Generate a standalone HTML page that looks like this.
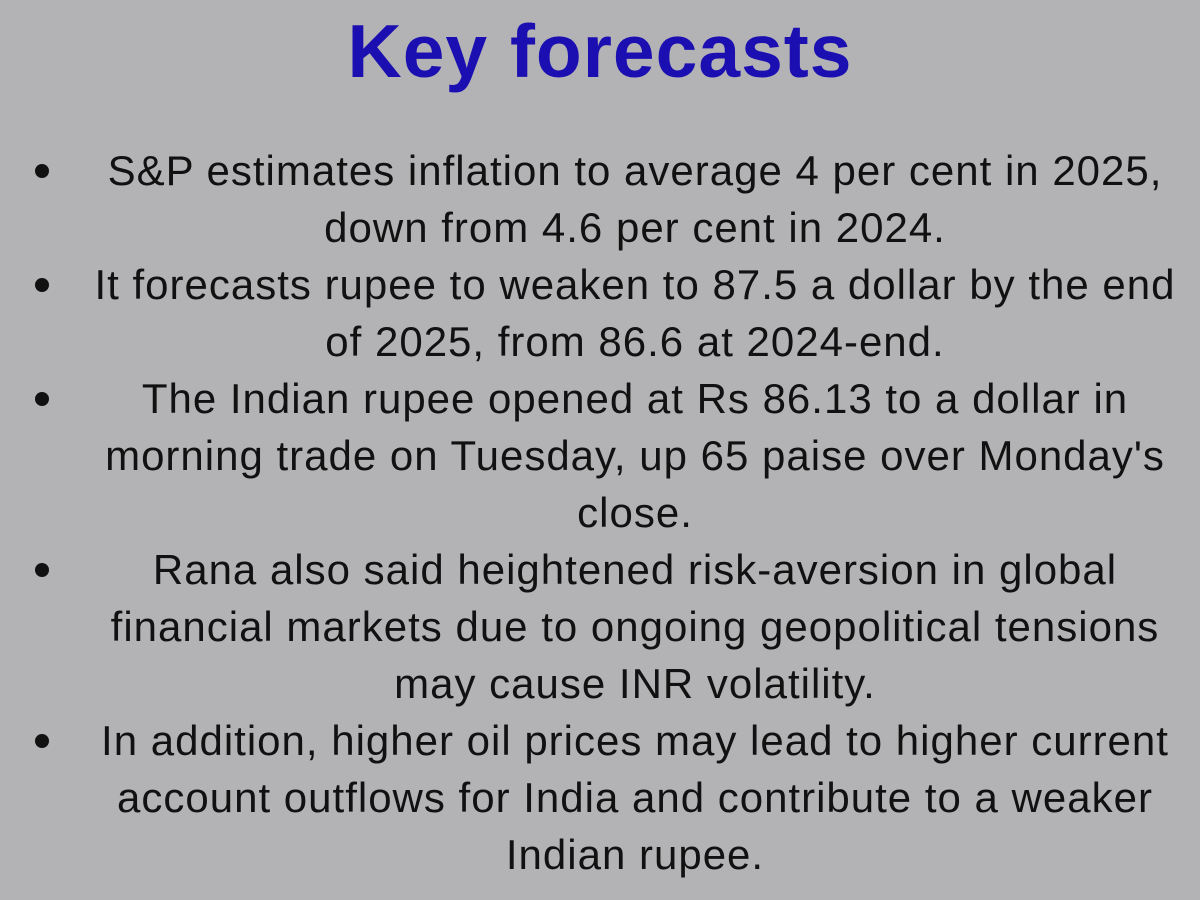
<!DOCTYPE html>
<html><head><meta charset="utf-8"><style>
html,body{margin:0;padding:0}
body{width:1200px;height:900px;background:#b3b3b5;position:relative;overflow:hidden;font-family:"Liberation Sans",sans-serif}
.t{position:absolute;left:0;width:1200px;text-align:center;top:6px;font-size:75px;font-weight:bold;color:#1c0fb2;line-height:90px;letter-spacing:1px}
.l{position:absolute;left:90px;width:1090px;text-align:center;font-size:42px;letter-spacing:1px;color:#111;line-height:57px;white-space:nowrap}
.b{position:absolute;left:35px;width:14px;height:14px;border-radius:50%;background:#111}
</style></head><body>
<div class="t">Key forecasts</div>
<div class="b" style="top:164px"></div>
<div class="b" style="top:278px"></div>
<div class="b" style="top:392px"></div>
<div class="b" style="top:563px"></div>
<div class="b" style="top:734px"></div>
<div class="l" style="top:142px">S&amp;P estimates inflation to average 4 per cent in 2025,</div>
<div class="l" style="top:199px">down from 4.6 per cent in 2024.</div>
<div class="l" style="top:256px">It forecasts rupee to weaken to 87.5 a dollar by the end</div>
<div class="l" style="top:313px">of 2025, from 86.6 at 2024-end.</div>
<div class="l" style="top:370px">The Indian rupee opened at Rs 86.13 to a dollar in</div>
<div class="l" style="top:427px">morning trade on Tuesday, up 65 paise over Monday's</div>
<div class="l" style="top:484px">close.</div>
<div class="l" style="top:541px">Rana also said heightened risk-aversion in global</div>
<div class="l" style="top:598px">financial markets due to ongoing geopolitical tensions</div>
<div class="l" style="top:655px">may cause INR volatility.</div>
<div class="l" style="top:712px">In addition, higher oil prices may lead to higher current</div>
<div class="l" style="top:769px">account outflows for India and contribute to a weaker</div>
<div class="l" style="top:826px">Indian rupee.</div>
</body></html>
